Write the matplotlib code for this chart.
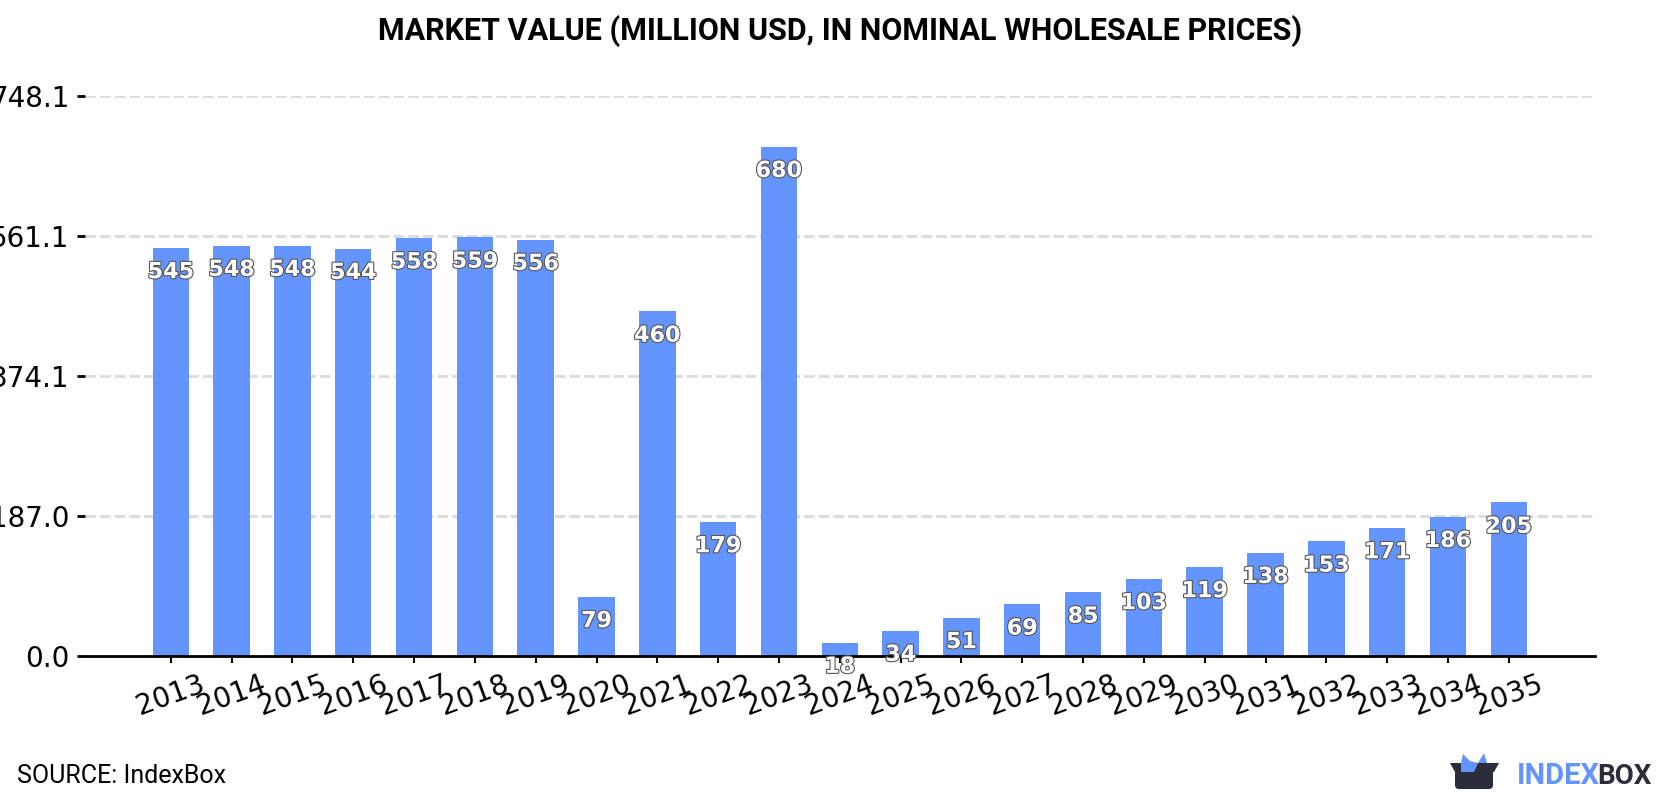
#!/usr/bin/env python3
"""Market value bar chart, 2013-2035, with value labels and logo."""

import matplotlib
matplotlib.use("Agg")
import matplotlib.pyplot as plt
import matplotlib.patheffects as pe
from matplotlib.patches import Polygon, FancyBboxPatch

years = list(range(2013, 2036))
values = [545, 548, 548, 544, 558, 559, 556, 79, 460, 179, 680, 18,
          34, 51, 69, 85, 103, 119, 138, 153, 171, 186, 205]
y_ticks = [0.0, 187.0, 374.1, 561.1, 748.1]

title = "MARKET VALUE (MILLION USD, IN NOMINAL WHOLESALE PRICES)"
source = "SOURCE: IndexBox"

BAR_BLUE = "#6495ff"
LOGO_DARK = "#2b2d3a"
W, H = 1680, 800

fig = plt.figure(figsize=(W / 100, H / 100), dpi=100)
fig.patch.set_facecolor("white")

# Axes box in pixels: left 85, right 1595, top 95.7, bottom 656
ax = fig.add_axes([85 / W, 1 - 656 / H, (1595 - 85) / W, (656 - 95.7) / H])
ax.set_xlim(-1.41, 23.417)
ax.set_ylim(0, 748.1)

x = list(range(len(years)))
ax.bar(x, values, width=0.6, color=BAR_BLUE, zorder=2)

ax.set_yticks(y_ticks)
ax.set_yticklabels([f"{v:.1f}" for v in y_ticks], fontsize=20, color="black")
ax.set_xticks(x)
ax.set_xticklabels([str(y) for y in years], fontsize=20, rotation=20, color="black")
ax.tick_params(axis="y", length=6, width=2, pad=5)
ax.tick_params(axis="x", length=5, width=1.5, pad=5)
ax.grid(axis="y", color="#dddddd", linewidth=2.2, linestyle=(0, (3.5, 1.3)), zorder=1)
ax.set_axisbelow(True)

for name in ("top", "right", "left"):
    ax.spines[name].set_visible(False)
ax.spines["bottom"].set_linewidth(2)

# Value labels sit a fixed distance under each bar top
for xi, v in zip(x, values):
    ax.annotate(str(v), (xi, v), xytext=(0, -17.5), textcoords="offset points",
                ha="center", va="center", fontsize=16, fontweight="bold",
                color="white", zorder=5, annotation_clip=False,
                path_effects=[pe.withStroke(linewidth=1.6, foreground="#555555")])

fig.text(0.5, 1 - 31 / H, title, ha="center", va="center",
         fontsize=22, fontweight="bold", family="Roboto", color="black")
fig.text(17 / W, 1 - 776 / H, source, ha="left", va="center",
         fontsize=18, family="Roboto", color="black")

# Logo, drawn in pixel coordinates on a full-figure overlay
logo = fig.add_axes([0, 0, 1, 1], facecolor="none")
logo.set_xlim(0, W)
logo.set_ylim(H, 0)
logo.axis("off")
# dark box body with a rim, notched where the blue flap shows through
logo.add_patch(FancyBboxPatch((1455, 768), 38, 21, boxstyle="round,pad=0,rounding_size=4",
                              color=LOGO_DARK, lw=0))
logo.add_patch(Polygon([(1450, 763), (1499, 763), (1494, 772), (1455, 772)],
                       closed=True, color=LOGO_DARK, lw=0))
logo.add_patch(Polygon([(1461, 772), (1461, 763), (1463, 754), (1470, 761), (1478, 763),
                        (1484, 753), (1487, 763), (1478, 763), (1474, 772)],
                       closed=True, color=BAR_BLUE, lw=0))
logo.text(1517, 776, "INDEX", ha="left", va="center", fontsize=21, fontweight="bold",
          family="Roboto", color=BAR_BLUE)
logo.text(1597, 776, "BOX", ha="left", va="center", fontsize=20, fontweight="bold",
          family="Roboto", color=LOGO_DARK)

fig.savefig("out.png", facecolor="white")
plt.close(fig)
